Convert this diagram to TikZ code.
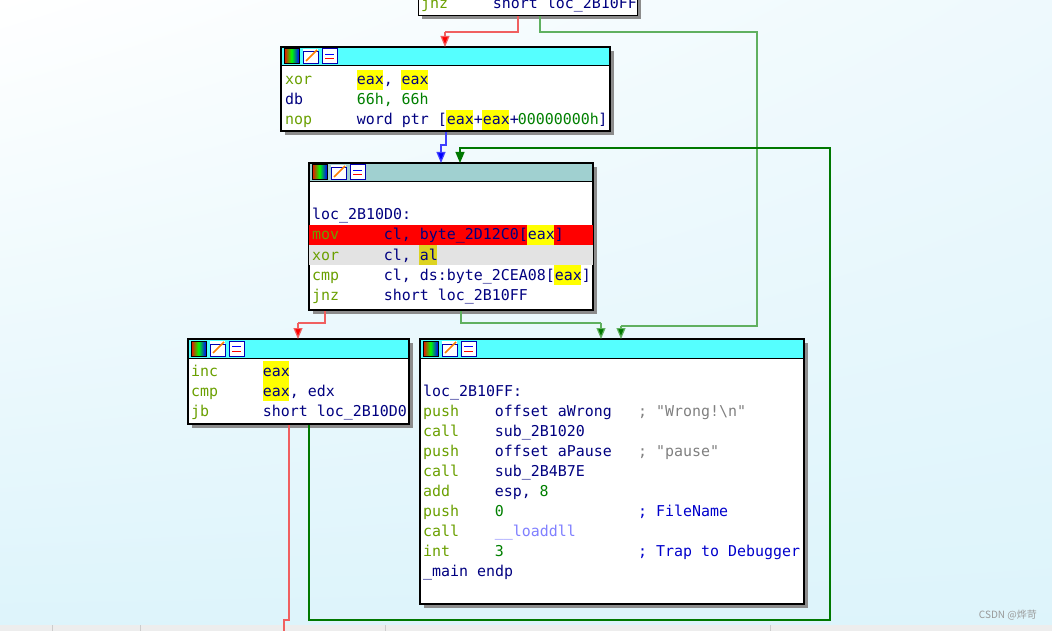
\documentclass[tikz,border=0pt]{standalone}
\usepackage{fontspec}
\newfontfamily\mono{DejaVu Sans Mono}
\newfontfamily\cjk{Noto Sans CJK SC}
\usetikzlibrary{calc,arrows.meta,shadings}
\definecolor{mn}{HTML}{6AA000}
\definecolor{op}{HTML}{000080}
\definecolor{nm}{HTML}{008000}
\definecolor{cmt}{HTML}{808080}
\definecolor{lib}{HTML}{8080FF}
\definecolor{hdr}{HTML}{55FFFF}
\definecolor{hdrg}{HTML}{A0D0D0}
\definecolor{hly}{HTML}{FFFF00}
\definecolor{lred}{HTML}{F06060}
\definecolor{lgreen}{HTML}{60B060}
\definecolor{dgreen}{HTML}{007800}
\definecolor{lblue}{HTML}{4040FF}
\definecolor{bgA}{HTML}{FFFFFF}
\definecolor{bgB}{HTML}{EEF9FD}
\definecolor{bgC}{HTML}{DDF4FB}
\def\cw{8.95}
\tikzset{
  txt/.style={anchor=base west,inner sep=0pt,font=\mono\fontsize{14.95}{16}\selectfont},
  box/.style={draw=black,line width=1.2pt,fill=white,anchor=north west,inner sep=0pt},
  conn/.style={line width=1.2pt},
  tip/.style={-{Triangle[width=9pt,length=11pt]}},
}
\newcommand\T[5]{\node[txt,text=#4] at ({#1+#3*\cw},#2+5) {#5};}
\newcommand\HL[5][hly]{\fill[#1] ({#2+#4*\cw},#3-10) rectangle ++({#5*\cw},20);}
\newcommand\MyBox[5]{%
  \fill[black!45] (#2+4,#3+4) rectangle (#2+#4+4,#3+#5+4);
  \node[box,minimum width=#4pt,minimum height=#5pt] (#1) at (#2,#3) {};}
\newcommand\Hdr[5]{%
  \fill[#5] (#1,#2) rectangle (#1+#3,#2+19);
  \draw[line width=1.2pt] (#1,#2) rectangle (#1+#3,#4);
  \draw[line width=1pt] (#1,#2+19) -- (#1+#3,#2+19);
  \shade[left color=red,right color=blue,middle color=green] (#1+3,#2+2) rectangle ++(15,15);
  \draw[black,line width=1pt] (#1+3,#2+2) rectangle ++(15,15);
  \fill[white] (#1+22,#2+2) rectangle ++(15,15);
  \draw[blue!70!black,line width=1pt] (#1+22,#2+5) rectangle ++(15,12);
  \draw[orange,line width=1.6pt] (#1+25,#2+14) -- (#1+36,#2+3);
  \fill[white] (#1+41,#2+2) rectangle ++(15,15);
  \draw[blue!70!black,line width=1pt] (#1+41,#2+2) rectangle ++(15,15);
  \draw[red,line width=1pt] (#1+44,#2+12) -- (#1+53,#2+12);
  \draw[blue,line width=0.8pt] (#1+44,#2+7) -- (#1+53,#2+7);}
\begin{document}
\begin{tikzpicture}[x=1pt,y=-1pt]
\useasboundingbox (0,0) rectangle (1052,631);
\shade[upper left=bgA,upper right=bgB,lower left=bgC,lower right=bgC] (0,0) rectangle (1052,631);
\fill[black!7] (0,625) rectangle (1052,631);
\foreach \x in {52,140,385,770}{\draw[black!20] (\x,625) -- (\x,631);}

% top partial box
\MyBox{b0}{418}{-10}{219}{25}
\T{421}{4}{0}{mn}{jnz}
\T{421}{4}{8}{op}{short loc\_2B10FF}

% box 1
\MyBox{b1}{281}{47}{329}{84}
\Hdr{281}{47}{329}{131}{hdr}
\HL{285}{80}{8}{3}\HL{285}{80}{13}{3}
\HL{285}{120}{18}{3}\HL{285}{120}{22}{3}
\T{285}{80}{0}{mn}{xor}\T{285}{80}{8}{op}{eax,}\T{285}{80}{13}{op}{eax}
\T{285}{100}{0}{op}{db}\T{285}{100}{8}{nm}{66h,}\T{285}{100}{13}{nm}{66h}
\T{285}{120}{0}{mn}{nop}\T{285}{120}{8}{op}{word ptr [eax+eax+}\T{285}{120}{26}{nm}{00000000h}\T{285}{120}{35}{op}{]}

% box 2
\MyBox{b2}{309}{163}{284}{147}
\Hdr{309}{163}{284}{310}{hdrg}
\fill[red] (309,225) rectangle (593,245);
\fill[black!11] (309,245) rectangle (593,265);
\HL{312}{235}{24}{3}
\HL[yellow!85!black]{312}{255}{12}{2}
\HL{312}{275}{27}{3}
\T{312}{215}{0}{op}{loc\_2B10D0:}
\T{312}{235}{0}{mn}{mov}\T{312}{235}{8}{op}{cl, byte\_2D12C0[eax]}
\T{312}{255}{0}{mn}{xor}\T{312}{255}{8}{op}{cl, al}
\T{312}{275}{0}{mn}{cmp}\T{312}{275}{8}{op}{cl, ds:byte\_2CEA08[eax]}
\T{312}{295}{0}{mn}{jnz}\T{312}{295}{8}{op}{short loc\_2B10FF}

% box 3
\MyBox{b3}{188}{339}{221}{85}
\Hdr{188}{339}{221}{424}{hdr}
\HL{191}{371}{8}{3}\HL{191}{391}{8}{3}
\T{191}{371}{0}{mn}{inc}\T{191}{371}{8}{op}{eax}
\T{191}{391}{0}{mn}{cmp}\T{191}{391}{8}{op}{eax, edx}
\T{191}{411}{0}{mn}{jb}\T{191}{411}{8}{op}{short loc\_2B10D0}

% box 4
\MyBox{b4}{420}{339}{384}{265}
\Hdr{420}{339}{384}{604}{hdr}
\T{423}{391}{0}{op}{loc\_2B10FF:}
\T{423}{411}{0}{mn}{push}\T{423}{411}{8}{op}{offset aWrong}\T{423}{411}{24}{cmt}{; "Wrong!\textbackslash n"}
\T{423}{431}{0}{mn}{call}\T{423}{431}{8}{op}{sub\_2B1020}
\T{423}{451}{0}{mn}{push}\T{423}{451}{8}{op}{offset aPause}\T{423}{451}{24}{cmt}{; "pause"}
\T{423}{471}{0}{mn}{call}\T{423}{471}{8}{op}{sub\_2B4B7E}
\T{423}{491}{0}{mn}{add}\T{423}{491}{8}{op}{esp,}\T{423}{491}{13}{nm}{8}
\T{423}{511}{0}{mn}{push}\T{423}{511}{8}{nm}{0}\T{423}{511}{24}{blue!80!black}{; FileName}
\T{423}{531}{0}{mn}{call}\T{423}{531}{8}{lib}{\_\_loaddll}
\T{423}{551}{0}{mn}{int}\T{423}{551}{8}{nm}{3}\T{423}{551}{24}{blue!80!black}{; Trap to Debugger}
\T{423}{571}{0}{op}{\_main endp}

% watermark
\node[anchor=east,inner sep=0pt,text=black!40,font=\cjk\fontsize{10}{12}\selectfont] (wm) at (1037,615) {CSDN @烨苛};

% connectors
\coordinate (c1) at (445,32);
\draw[conn,lred] ($(b0.south west)+(100,0)$) |- (c1);
\draw[conn,lred,-{Triangle[width=9pt,length=11pt,fill=red]}] (c1) -- ($(b1.north west)+(164,0)$);
\draw[conn,lgreen] ($(b0.south west)+(122,0)$) |- (757,32) |- (621,326);
\draw[conn,lgreen,-{Triangle[width=9pt,length=11pt,fill=dgreen]}] (621,326) -- ($(b4.north west)+(201,0)$);
\draw[conn,lblue] ($(b1.south west)+(165,0)$) -- (446,145) -| (441,150);
\draw[conn,lblue,-{Triangle[width=9pt,length=11pt,fill=blue]}] (441,150) -- ($(b2.north west)+(132,0)$);
\draw[conn,dgreen,tip] ($(b3.south west)+(121,0)$) |- (830,620) |- (460,148) -- ($(b2.north west)+(151,0)$);
\draw[conn,lred] ($(b2.south west)+(16,0)$) |- (298,323);
\draw[conn,lred,-{Triangle[width=9pt,length=11pt,fill=red]}] (298,323) -- ($(b3.north west)+(110,0)$);
\draw[conn,lgreen] ($(b2.south west)+(152,0)$) |- (601,323);
\draw[conn,lgreen,-{Triangle[width=9pt,length=11pt,fill=dgreen]}] (601,323) -- ($(b4.north west)+(181,0)$);
\draw[conn,lred] ($(b3.south west)+(101,0)$) |- (284,620) -- (284,631);
\end{tikzpicture}
\end{document}
